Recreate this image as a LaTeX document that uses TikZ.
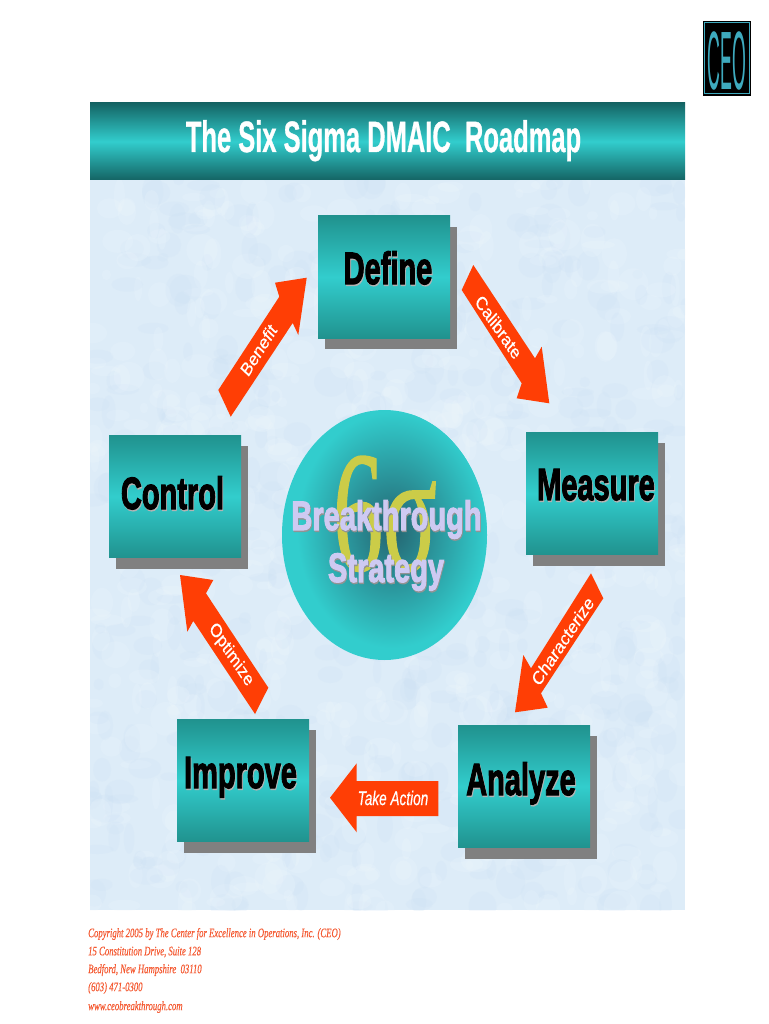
\documentclass[tikz,border=0pt]{standalone}
\usepackage{fontspec}
\setmainfont{Liberation Sans}
\newfontfamily\boldblack[FakeBold=2.8]{Liberation Sans Bold}
\newfontfamily\titlefont[FakeBold=1]{Liberation Sans Bold}
\newfontfamily\arrowfont[FakeBold=0.5]{Liberation Sans}
\newfontfamily\arrowital[FakeBold=0.5]{Liberation Sans Italic}
\newfontfamily\logofont{Liberation Sans}
\newfontfamily\serifit[FakeBold=0.3]{Liberation Serif Italic}
\newfontfamily\seriffont[FakeBold=1]{Liberation Serif}
\definecolor{tealdark}{RGB}{32,146,142}
\definecolor{tealedge}{RGB}{20,100,100}
\definecolor{tealmid}{RGB}{50,205,205}
\definecolor{tealcore}{RGB}{36,100,112}
\definecolor{paper}{RGB}{221,236,248}
\definecolor{paperlight}{RGB}{240,248,253}
\definecolor{paperdark}{RGB}{200,222,243}
\definecolor{arrowred}{RGB}{255,62,5}
\definecolor{footred}{RGB}{245,90,50}
\definecolor{shadowgray}{RGB}{128,128,128}
\definecolor{lav}{RGB}{206,202,242}
\definecolor{sigmay}{RGB}{203,204,72}
\definecolor{logoteal}{RGB}{62,170,190}
\tikzset{
  stepbox/.style={draw=none,minimum width=132pt,minimum height=122.5pt,inner sep=0pt,
    top color=tealdark,bottom color=tealdark,middle color=tealmid},
  stepshadow/.style={fill=shadowgray,draw=none,minimum width=132pt,minimum height=122.5pt,inner sep=0pt},
  blockfill/.style={fill=arrowred,draw=none},
  arrowtext/.style={font=\arrowfont\fontsize{15.6}{15.6}\selectfont,text=white,inner sep=0pt},
  bigtext/.style={font=\boldblack\fontsize{29}{29}\selectfont,yscale=1.56,inner sep=0pt,anchor=base},
  midtext/.style={font=\boldblack\fontsize{29}{29}\selectfont,yscale=1.42,inner sep=0pt,anchor=base},
}
\newcommand{\steplabel}[4]{% name, x, baseline y, text
  \node[bigtext,text=shadowgray!60] at (#2+0.8,#3+1.5) {#4};
  \node[bigtext,text=black] (#1) at (#2,#3) {#4};
}
\begin{document}
\begin{tikzpicture}[x=1pt,y=-1pt]
\useasboundingbox (0,0) rectangle (768,1024);
\fill[white] (0,0) rectangle (768,1024);
% panel
\fill[paper] (90,180) rectangle (685,910);
\begin{scope}
\clip (90,180) rectangle (685,910);
\pgfmathsetseed{4242}
\foreach \i in {1,...,1100}{
  \pgfmathsetmacro{\cx}{90+595*rnd}
  \pgfmathsetmacro{\cy}{180+730*rnd}
  \pgfmathsetmacro{\rx}{4+13*rnd}
  \pgfmathsetmacro{\ry}{4+13*rnd}
  \pgfmathsetmacro{\tone}{rnd}
  \ifdim\tone pt<0.55pt
    \fill[paperlight,opacity=0.2] (\cx,\cy) ellipse ({\rx} and {\ry});
  \else
    \fill[paperdark,opacity=0.16] (\cx,\cy) ellipse ({\rx} and {\ry});
  \fi
}
\end{scope}
% title bar
\shade[top color=tealedge,bottom color=tealedge,middle color=tealmid] (90,103) rectangle (685,180);
\node[font=\titlefont\fontsize{25.5}{25.5}\selectfont,yscale=1.72,text=white,inner sep=0pt,anchor=base] (title) at (383.5,152) {The Six Sigma DMAIC\ \ Roadmap};
% logo
\fill[black] (703,21) rectangle (751,96);
\draw[logoteal,line width=1pt] (704.5,23) rectangle (749.5,94);
\node[font=\logofont\fontsize{24}{24}\selectfont,xscale=0.74,yscale=3.45,text=logoteal,inner sep=0pt,anchor=base] (logo) at (727,89.5) {CEO};
% shadows
\node[stepshadow] (s1) at (390.6,288) {};
\node[stepshadow] (s2) at (598.6,504.5) {};
\node[stepshadow] (s3) at (530.6,797.5) {};
\node[stepshadow] (s4) at (249.6,791.5) {};
\node[stepshadow] (s5) at (181.6,507.5) {};
% boxes
\node[stepbox] (define) at (384,277) {};
\node[stepbox] (measure) at (592,493.5) {};
\node[stepbox] (analyze) at (524,786.5) {};
\node[stepbox] (improve) at (243,780.5) {};
\node[stepbox] (control) at (175,496.5) {};
\steplabel{tdefine}{388}{284}{Define}
\steplabel{tmeasure}{596}{500}{Measure}
\steplabel{tanalyze}{521}{795}{Analyze}
\steplabel{timprove}{240.5}{788}{Improve}
\steplabel{tcontrol}{172.5}{509}{Control}
% centre
\fill[tealmid] (384.5,535) ellipse (102.5 and 125);
\begin{scope}
\clip (384.5,535) ellipse (102.5 and 125);
\shade[inner color=tealcore,outer color=tealmid] (392,530) ellipse (95 and 118);
\end{scope}
\node[font=\seriffont\fontsize{100}{100}\selectfont,yscale=1.72,text=sigmay,inner sep=0pt,anchor=base] (sigma) at (385,570) {6σ};
\node[midtext,text=shadowgray!85] at (387.2,531.5) {Breakthrough};
\node[midtext,text=lav] (bt) at (386.5,530) {Breakthrough};
\node[midtext,text=shadowgray!85] at (386.7,583.5) {Strategy};
\node[midtext,text=lav] (st) at (386,582) {Strategy};
% block arrows
\fill[blockfill] (218.3,390) -- (279.3,296.7) -- (275,282.7) -- (306.7,277.7) -- (298.3,335) -- (292.7,323) -- (230.7,416.7) -- cycle;
\fill[blockfill] (473.3,265) -- (535,358.3) -- (541.7,346.7) -- (549.3,403.3) -- (516.7,398.3) -- (521.7,383.3) -- (461.7,290) -- cycle;
\fill[blockfill] (591,573.3) -- (531,668.3) -- (523.3,655) -- (515,712.3) -- (547.7,707.7) -- (541,693.3) -- (603.3,598.3) -- cycle;
\fill[blockfill] (268.3,687.7) -- (206,593.3) -- (213.3,580) -- (180,575) -- (187.3,631.7) -- (193.3,621) -- (255,714) -- cycle;
\fill[blockfill] (438.3,781) -- (356.7,781) -- (356.7,763.3) -- (330,797.7) -- (356.7,832.3) -- (356.7,816) -- (438.3,816) -- cycle;
\node[arrowtext,yscale=1.22,rotate=52.5] (lbenefit) at (258.5,350) {Benefit};
\node[arrowtext,yscale=1.22,rotate=-50] (lcalibrate) at (498.5,327) {Calibrate};
\node[arrowtext,yscale=1.22,rotate=51] (lchar) at (562.6,641) {Characterize};
\node[arrowtext,yscale=1.22,rotate=-51] (loptimize) at (231,655) {Optimize};
\node[font=\arrowital\fontsize{13.6}{13.6}\selectfont,yscale=1.45,text=white,inner sep=0pt] (ltake) at (393,798) {Take Action};
% footer
\foreach \n/\yy/\t in {f1/934/{Copyright 2005 by The Center for Excellence in Operations, Inc. (CEO)},
  f2/952/{15 Constitution Drive, Suite 128},
  f3/970/{Bedford, New Hampshire\ \ 03110},
  f4/988/{(603) 471-0300},
  f5/1007/{www.ceobreakthrough.com}}{
  \node[font=\serifit\fontsize{8.7}{8.7}\selectfont,yscale=1.5,text=footred,anchor=west,inner sep=0pt] (\n) at (88,\yy) {\t};
}
\end{tikzpicture}
\end{document}
